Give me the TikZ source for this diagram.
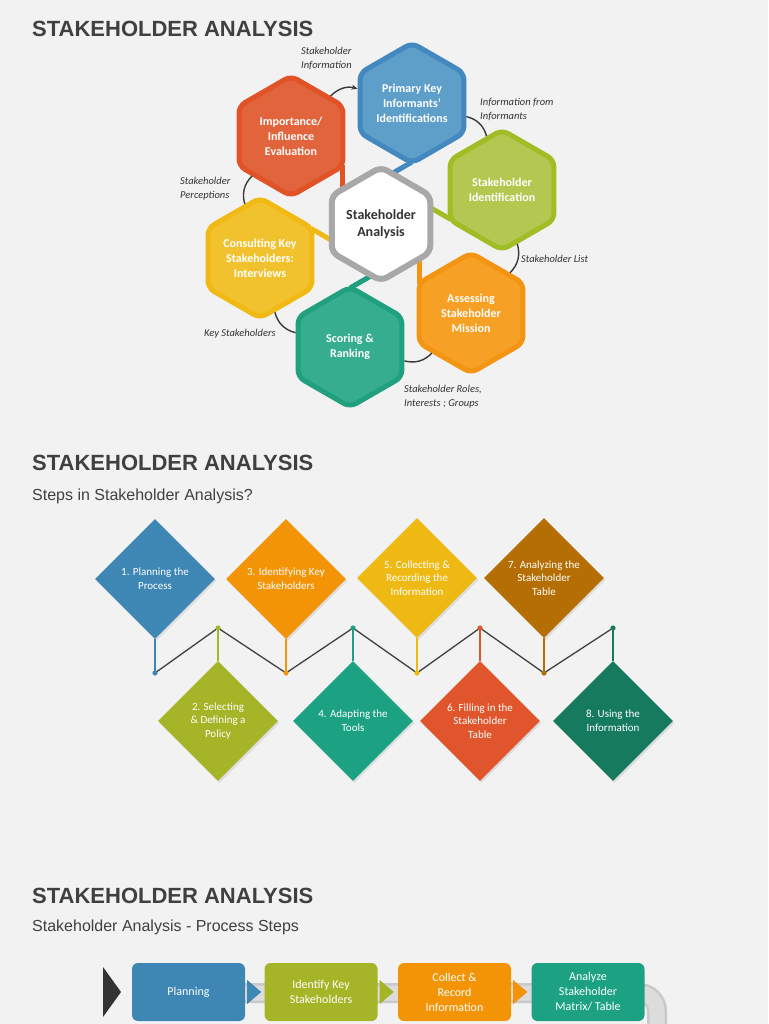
\documentclass[tikz,border=0pt]{standalone}
\usepackage{fontspec}
\setmainfont{Carlito}
\newfontfamily\titlefont{Liberation Sans}
\usetikzlibrary{shapes.geometric,calc,shadows,arrows.meta}
\definecolor{bgc}{HTML}{F2F2F2}
\definecolor{ttl}{HTML}{404040}
\definecolor{lbl}{HTML}{333333}
\definecolor{ringc}{HTML}{3A3A3A}
% hexagon colours (border, fill)
\definecolor{hbB}{HTML}{4389C0}\definecolor{hbF}{HTML}{5E9FCA}
\definecolor{hrB}{HTML}{E15326}\definecolor{hrF}{HTML}{E2643C}
\definecolor{hgB}{HTML}{A1BD25}\definecolor{hgF}{HTML}{B4C750}
\definecolor{hyB}{HTML}{F0B914}\definecolor{hyF}{HTML}{F2C22E}
\definecolor{hoB}{HTML}{F39512}\definecolor{hoF}{HTML}{F6A126}
\definecolor{htB}{HTML}{20A07F}\definecolor{htF}{HTML}{35AD8E}
\definecolor{hcB}{HTML}{A8A8A8}
% diamond / box colours
\definecolor{dBlue}{HTML}{3E86B4}
\definecolor{dOrange}{HTML}{F39406}
\definecolor{dYellow}{HTML}{EDB912}
\definecolor{dBrown}{HTML}{B56E04}
\definecolor{dOlive}{HTML}{A6B427}
\definecolor{dTeal}{HTML}{1CA283}
\definecolor{dRed}{HTML}{E0552B}
\definecolor{dDark}{HTML}{167A5F}
\definecolor{trackO}{HTML}{C9C9C9}
\definecolor{trackI}{HTML}{DCDCDC}
\begin{document}
\begin{tikzpicture}[x=1pt,y=1pt,
  title/.style={anchor=base west, inner sep=0, text=ttl, font=\titlefont\bfseries\fontsize{22}{26}\selectfont},
  subtitle/.style={anchor=base west, inner sep=0, text=ttl, font=\titlefont\fontsize{16}{19}\selectfont},
  hexo/.style={regular polygon, regular polygon sides=6, shape border rotate=30,
     minimum size=120, inner sep=0, line width=5, rounded corners=7,
     text=white, align=center, font=\bfseries\fontsize{12}{15}\selectfont},
  hexc/.style={regular polygon, regular polygon sides=6, shape border rotate=30,
     minimum size=113, inner sep=0, line width=6, rounded corners=7, draw=hcB, fill=white,
     text=lbl, align=center, font=\bfseries\fontsize{14}{17.5}\selectfont},
  ring/.style={draw=ringc, line width=1.4},
  tab/.style={line width=5},
  note/.style={anchor=west, inner sep=0, text=lbl, align=left, font=\itshape\fontsize{10.5}{14}\selectfont},
  dia/.style={diamond, aspect=1, minimum width=120, minimum height=120, inner sep=0,
     text=white, align=center, font=\fontsize{11}{13.7}\selectfont,
     drop shadow={opacity=0.18, shadow xshift=1.5pt, shadow yshift=-2pt}},
  zig/.style={draw=ttl, line width=1.3},
  stem/.style={line width=1.3},
  box/.style={rectangle, rounded corners=6, minimum width=113, minimum height=58, inner sep=0,
     text=white, align=center, font=\fontsize{12}{15}\selectfont},
]
\useasboundingbox (0,0) rectangle (768,-1024);
\fill[bgc] (0,0) rectangle (768,-1024);
\clip (0,0) rectangle (768,-1024);

% ================= Section 1 =================
\node[title] (t1) at (32,-37) {STAKEHOLDER ANALYSIS};

\coordinate (cImp) at (291,-136);
\coordinate (cPki) at (412,-103);
\coordinate (cSid) at (502,-190);
\coordinate (cAsm) at (471,-313);
\coordinate (cScr) at (350,-347);
\coordinate (cCon) at (260,-258);

% edge extensions (tabs) towards the centre hexagon
\draw[tab, hrB] ($(cImp)+(-30:59)$) -- ++(270:30);
\draw[tab, hbB] ($(cPki)+(-90:59)$) -- ++(210:30);
\draw[tab, hgB] ($(cSid)+(210:59)$) -- ++(150:30);
\draw[tab, hoB] ($(cAsm)+(150:59)$) -- ++(90:30);
\draw[tab, htB] ($(cScr)+(90:59)$) -- ++(30:30);
\draw[tab, hyB] ($(cCon)+(30:59)$) -- ++(-30:30);

\node[hexo, draw=hrB, fill=hrF] (imp) at (cImp) {Importance/\\Influence\\Evaluation};
\node[hexo, draw=hbB, fill=hbF] (pki) at (cPki) {Primary Key\\Informants'\\Identifications};
\node[hexo, draw=hgB, fill=hgF] (sid) at (cSid) {Stakeholder\\Identification};
\node[hexo, draw=hoB, fill=hoF] (asm) at (cAsm) {Assessing\\Stakeholder\\Mission};
\node[hexo, draw=htB, fill=htF] (scr) at (cScr) {Scoring \&\\Ranking};
\node[hexo, draw=hyB, fill=hyF] (con) at (cCon) {Consulting Key\\Stakeholders:\\Interviews};
\node[hexc] (ctr) at (381,-224) {Stakeholder\\Analysis};

\draw[ring, -{Stealth[length=6pt,width=5pt]}] (imp) to[bend left=30] (pki);
\draw[ring] (pki) to[bend left=30] (sid);
\draw[ring] (sid) to[bend left=30] (asm);
\draw[ring] (asm) to[bend left=30] (scr);
\draw[ring] (scr) to[bend left=30] (con);
\draw[ring] (con) to[bend left=30] (imp);

\node[note] (n1) at (301,-58) {Stakeholder\\Information};
\node[note] (n2) at (480,-109.5) {Information from\\Informants};
\node[note] (n3) at (180,-189) {Stakeholder\\Perceptions};
\node[note] (n4) at (521,-259) {Stakeholder List};
\node[note] (n5) at (204,-334) {Key Stakeholders};
\node[note] (n6) at (404,-397) {Stakeholder Roles,\\Interests ; Groups};

% ================= Section 2 =================
\node[title] (t2) at (32,-470) {STAKEHOLDER ANALYSIS};
\node[subtitle] (s2) at (32,-500) {Steps in Stakeholder Analysis?};

\coordinate (z1) at (155,-673);
\coordinate (z2) at (218,-628);
\coordinate (z3) at (286,-673);
\coordinate (z4) at (353,-628);
\coordinate (z5) at (417,-673);
\coordinate (z6) at (480,-628);
\coordinate (z7) at (544,-673);
\coordinate (z8) at (613,-628);

\node[dia, fill=dBlue]   (d1) at (155,-579) {1. Planning the\\Process};
\node[dia, fill=dOrange] (d3) at (286,-579) {3. Identifying Key\\Stakeholders};
\node[dia, fill=dYellow] (d5) at (417,-578) {5. Collecting \&\\Recording the\\Information};
\node[dia, fill=dBrown]  (d7) at (544,-578) {7. Analyzing the\\Stakeholder\\Table};
\node[dia, fill=dOlive]  (d2) at (218,-721) {2. Selecting\\\& Defining a\\Policy};
\node[dia, fill=dTeal]   (d4) at (353,-721) {4. Adapting the\\Tools};
\node[dia, fill=dRed]    (d6) at (480,-721) {6. Filling in the\\Stakeholder\\Table};
\node[dia, fill=dDark]   (d8) at (613,-721) {8. Using the\\Information};

\draw[zig] (z1) -- (z2) -- (z3) -- (z4) -- (z5) -- (z6) -- (z7) -- (z8);
\draw[stem, dBlue]   (d1.south) -- (z1);
\draw[stem, dOrange] (d3.south) -- (z3);
\draw[stem, dYellow] (d5.south) -- (z5);
\draw[stem, dBrown]  (d7.south) -- (z7);
\draw[stem, dOlive]  (d2.north) -- (z2);
\draw[stem, dTeal]   (d4.north) -- (z4);
\draw[stem, dRed]    (d6.north) -- (z6);
\draw[stem, dDark]   (d8.north) -- (z8);
\fill[dBlue]   (z1) circle (2.6);
\fill[dOlive]  (z2) circle (2.6);
\fill[dOrange] (z3) circle (2.6);
\fill[dTeal]   (z4) circle (2.6);
\fill[dYellow] (z5) circle (2.6);
\fill[dRed]    (z6) circle (2.6);
\fill[dBrown]  (z7) circle (2.6);
\fill[dDark]   (z8) circle (2.6);

% ================= Section 3 =================
\node[title] (t3) at (32,-903) {STAKEHOLDER ANALYSIS};
\node[subtitle] (s3) at (32,-931) {Stakeholder Analysis - Process Steps};

\coordinate (trA) at (200,-993);
\coordinate (trB) at (657,-1045);
\draw[trackO, line width=20, rounded corners=18] (trA) -| (trB);
\draw[trackI, line width=15, rounded corners=18] (trA) -| (trB);

\fill[lbl] (103,-967) -- (121,-992) -- (103,-1017) -- cycle;

\node[box, fill=dBlue]   (b1) at (188.5,-992) {Planning};
\node[box, fill=dOlive]  (b2) at (321,-992) {Identify Key\\Stakeholders};
\node[box, fill=dOrange] (b3) at (454.5,-992) {Collect \&\\Record\\Information};
\node[box, fill=dTeal]   (b4) at (588,-992) {Analyze\\Stakeholder\\Matrix/ Table};

\fill[dBlue]   ($(b1.east)+(2,12)$) -- ($(b1.east)+(16,0)$) -- ($(b1.east)+(2,-12)$) -- cycle;
\fill[dOlive]  ($(b2.east)+(2,12)$) -- ($(b2.east)+(16,0)$) -- ($(b2.east)+(2,-12)$) -- cycle;
\fill[dOrange] ($(b3.east)+(2,12)$) -- ($(b3.east)+(16,0)$) -- ($(b3.east)+(2,-12)$) -- cycle;
\end{tikzpicture}
\end{document}
